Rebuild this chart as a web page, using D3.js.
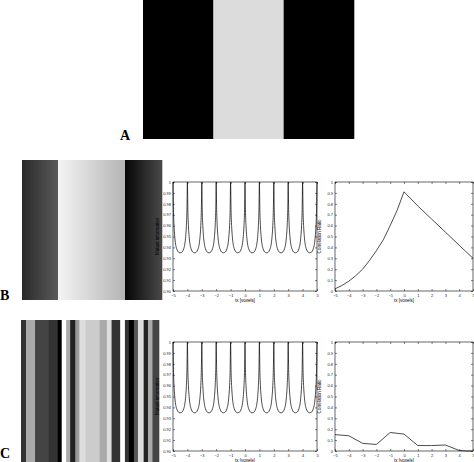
<!DOCTYPE html>
<html><head><meta charset="utf-8">
<script src="https://cdn.jsdelivr.net/npm/d3@7"></script>
<style>body{margin:0;background:#fff}svg{display:block;font-family:"Liberation Serif",serif}</style>
</head><body><svg id="fig" width="474" height="462"></svg>
<script>
// panel A stripes: [relative width, gray]
const stripesA = [[1, "#000"], [1, "#dcdcdc"], [1, "#000"]];
// panel B stripes: [relative width, gray from, gray to]
const stripesB = [[36, "#2a2a2a", "#5a5a5a"], [67, "#f4f4f4", "#b4b4b4"], [37, "#050505", "#4a4a4a"]];
// panel C stripes
const stripesC = [
  [5, "#333"], [9, "#aaa"], [13.6, "#444"], [9, "#333"], [4, "#000"], [4.4, "#fff"], [4, "#aaa"],
  [5.3, "#222"], [4, "#999"], [6, "#ddd"], [14, "#ccc"], [7.3, "#aaa"], [4.7, "#ddd"], [8.7, "#333"],
  [4.6, "#fff"], [4, "#333"], [5, "#000"], [4, "#555"], [5.7, "#ddd"], [4.3, "#222"], [4.4, "#aaa"], [6.6, "#444"]
];

// mutual information: one period profile (offset from integer shift, value), repeated every voxel
const miOffsets = [0, 0.03, 0.07, 0.12, 0.18, 0.25, 0.33, 0.42, 0.5, 0.58, 0.67, 0.75, 0.82, 0.88, 0.93, 0.97, 1];
const miProfile = [1, 0.975, 0.96, 0.95, 0.943, 0.939, 0.9365, 0.9353, 0.935, 0.9353, 0.9365, 0.939, 0.943, 0.95, 0.96, 0.975, 1];
const shifts = [-5, -4, -3, -2, -1, 0, 1, 2, 3, 4];

const crBx = [-5, -4.5, -4, -3.5, -3, -2.5, -2, -1.5, -1, -0.5, 0, 1, 2, 3, 4, 5];
const crB = [0.02, 0.05, 0.09, 0.14, 0.2, 0.28, 0.37, 0.47, 0.6, 0.74, 0.91, 0.78, 0.66, 0.54, 0.42, 0.3];
const crCx = [-5, -4, -3, -2, -1, 0, 1, 2, 3, 4, 4.5, 5];
const crC = [0.15, 0.14, 0.07, 0.06, 0.17, 0.155, 0.05, 0.05, 0.055, 0.005, 0, 0];

const xTicks = [-5, -4, -3, -2, -1, 0, 1, 2, 3, 4, 5];
const miTicks = [0.9, 0.91, 0.92, 0.93, 0.94, 0.95, 0.96, 0.97, 0.98, 0.99, 1];
const crTicks = [0, 0.1, 0.2, 0.3, 0.4, 0.5, 0.6, 0.7, 0.8, 0.9, 1];

const svg = d3.select("#fig");
const defs = svg.append("defs");

function stripes(x, y, w, h, data, id) {
  const total = d3.sum(data, d => d[0]);
  const sx = d3.scaleLinear().domain([0, total]).range([x, x + w]);
  let acc = 0;
  data.forEach((d, i) => {
    let fill = d[1];
    if (d.length === 3) {
      const g = defs.append("linearGradient").attr("id", id + i);
      g.append("stop").attr("offset", "0%").attr("stop-color", d[1]);
      g.append("stop").attr("offset", "100%").attr("stop-color", d[2]);
      fill = `url(#${id + i})`;
    }
    svg.append("rect").attr("x", sx(acc)).attr("y", y)
      .attr("width", sx(acc + d[0]) - sx(acc) + 0.3).attr("height", h).attr("fill", fill);
    acc += d[0];
  });
}

function label(t, x, y) {
  svg.append("text").attr("x", x).attr("y", y).attr("font-size", 14).attr("font-weight", "bold").text(t);
}

function plot(x0, y0, w, h, yDom, yTicks, yFmt, pts, ylab, curve) {
  const x = d3.scaleLinear().domain([-5, 5]).range([x0, x0 + w]);
  const y = d3.scaleLinear().domain(yDom).range([y0 + h, y0]);
  const g = svg.append("g").style("font-family", "Liberation Sans, sans-serif");
  g.append("rect").attr("x", x0).attr("y", y0).attr("width", w).attr("height", h)
    .attr("fill", "none").attr("stroke", "#000").attr("stroke-width", 0.6);
  const tk = 2;
  const axes = [
    [d3.axisBottom(x).tickValues(xTicks).tickSize(-tk).tickFormat(d3.format("d")), `translate(0,${y0 + h})`, "b"],
    [d3.axisTop(x).tickValues(xTicks).tickSize(-tk).tickFormat(""), `translate(0,${y0})`, "t"],
    [d3.axisLeft(y).tickValues(yTicks).tickSize(-tk).tickFormat(yFmt), `translate(${x0},0)`, "l"],
    [d3.axisRight(y).tickValues(yTicks).tickSize(-tk).tickFormat(""), `translate(${x0 + w},0)`, "r"]
  ];
  axes.forEach(([ax, tr, side]) => {
    const a = g.append("g").attr("transform", tr).call(ax);
    a.select(".domain").remove();
    a.selectAll("line").attr("stroke-width", 0.5);
    a.selectAll("text").attr("font-size", 4).attr("fill", "#222");
    if (side === "b") a.selectAll("text").attr("y", 4).attr("dy", "0.5em");
    if (side === "l") a.selectAll("text").attr("x", -2);
  });
  g.append("text").attr("x", x0 + w / 2).attr("y", y0 + h + 11).attr("text-anchor", "middle")
    .attr("font-size", 4.5).text("tx [voxels]");
  g.append("text").attr("transform", `translate(${x0 - 14},${y0 + h / 2}) rotate(-90)`)
    .attr("text-anchor", "middle").attr("font-size", 4.5).text(ylab);
  const line = d3.line().x(d => x(d[0])).y(d => y(d[1])).curve(curve || d3.curveLinear);
  g.append("path").datum(pts).attr("d", line).attr("fill", "none").attr("stroke", "#000").attr("stroke-width", 0.7);
}

// A
stripes(143, 0, 211, 139, stripesA, "a");
label("A", 120, 140);
// B
stripes(22, 160, 140, 140, stripesB, "b");
label("B", 0, 300);
// C
stripes(21, 320, 138, 142, stripesC, "c");
label("C", 0, 458);

const miPts = [];
shifts.forEach(s => miOffsets.forEach((o, i) => miPts.push([s + o, miProfile[i]])));
const f2 = d3.format(".2f"), f1 = d3.format(".1f");
const miFmt = d => d === 1 ? "1" : f2(d);
const crFmt = d => d === 1 ? "1" : d === 0 ? "0" : f1(d);

plot(173, 182, 144, 109, [0.9, 1], miTicks, miFmt, miPts, "Mutual information", d3.curveMonotoneX);
plot(335, 182, 138, 109, [0, 1], crTicks, crFmt, crBx.map((v, i) => [v, crB[i]]), "Correlation Ratio");
plot(173, 342, 144, 109, [0.9, 1], miTicks, miFmt, miPts, "Mutual information", d3.curveMonotoneX);
plot(335, 342, 138, 109, [0, 1], crTicks, crFmt, crCx.map((v, i) => [v, crC[i]]), "Correlation Ratio");
</script></body></html>
